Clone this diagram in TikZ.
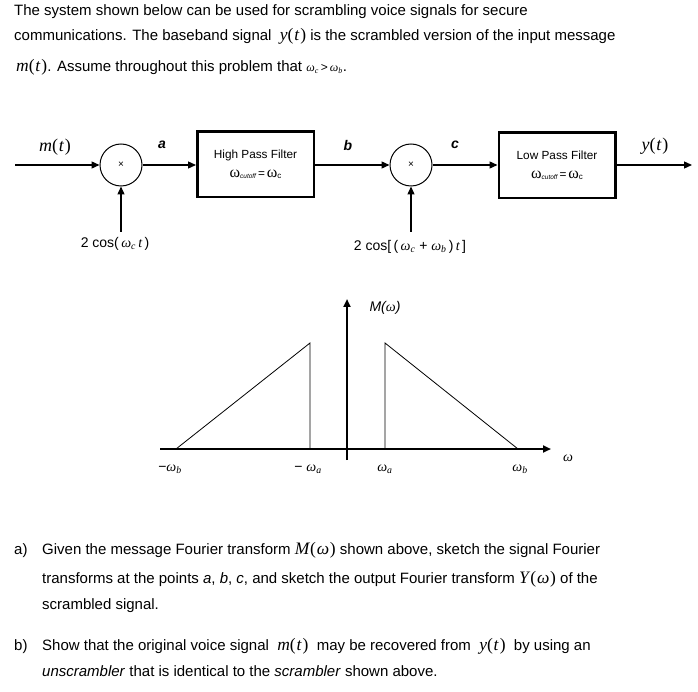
\documentclass[tikz,border=0pt]{standalone}
\usepackage{fontspec}
\setmainfont{Liberation Sans}
\newfontfamily\symfont{Liberation Serif}
\usetikzlibrary{arrows.meta}
\newcommand{\wcut}{{\symfont\fontsize{16}{16}\selectfont ω}\raisebox{-1.5pt}{\fontsize{6.5}{6.5}\selectfont\itshape cutoff}\,=\,{\symfont\fontsize{16}{16}\selectfont ω}\raisebox{-1.5pt}{\fontsize{8}{8}\selectfont c}}
\newcommand{\mv}[1]{{\symfont\itshape #1}}
\newcommand{\mfn}[2]{{\symfont\itshape #1\/\upshape(\kern0.8pt\itshape #2\/\kern0.8pt\upshape)}}
\newcommand{\mthbig}[2]{{\fontsize{17.5}{17.5}\selectfont\mfn{#1}{#2}}}
\newcommand{\om}[1]{\mv{ω}\textsubscript{\mv{#1}}}
\begin{document}
\begin{tikzpicture}[x=1pt,y=-1pt,
  txt/.style={anchor=base west, inner sep=0pt, font=\fontsize{15}{16}\selectfont},
  sig/.style={line width=1.3pt, -{Triangle[length=8pt,width=7pt]}},
  mult/.style={circle, draw, line width=1pt, minimum size=42pt, inner sep=0pt, font=\fontsize{10}{12}\selectfont},
  filt/.style={draw, line width=2.5pt, minimum width=116.5pt, minimum height=65.5pt, align=center, inner sep=0pt, font=\fontsize{11.8}{14}\selectfont},
  lbl/.style={inner sep=0pt, font=\fontsize{14}{15}\selectfont},
  ptlbl/.style={inner sep=0pt, font=\fontsize{14}{15}\selectfont\bfseries\itshape},
  axisline/.style={line width=2pt, -{Triangle[length=8pt,width=7pt]}},
  spec/.style={line width=0.8pt},
  flbl/.style={inner sep=0pt, font=\fontsize{14}{14}\selectfont}
]
\useasboundingbox (0,0) rectangle (698,692);

% top text
\node[txt] (t1) at (14,16) {The system shown below can be used for scrambling voice signals for secure};
\node[txt] (t2) at (14,41) {communications. The baseband signal \ \mthbig{y}{t} is the scrambled version of the input message};
\node[txt] (t3) at (16,72) {\mthbig{m}{t}. Assume throughout this problem that {\fontsize{12}{12}\selectfont\om{c}\,>\,\om{b}}.};

% block diagram
\node[mult] (m1) at (121,165) {×};
\node[mult] (m2) at (411,165) {×};
\node[filt] (hpf) at (255.5,164.5) {High Pass Filter\\[5pt]\wcut};
\node[filt] (lpf) at (557,165.5) {Low Pass Filter\\[5pt]\wcut};
\coordinate (in) at (15,165);
\coordinate (out) at (692,165);
\coordinate (lo1) at (121,232);
\coordinate (lo2) at (411,232);
\draw[sig] (in) -- (m1);
\draw[sig] (m1) -- (hpf.west |- m1);
\draw[sig] (hpf.east |- m2) -- (m2);
\draw[sig] (m2) -- (lpf.west |- m2);
\draw[sig] (lpf.east |- out) -- (out);
\draw[sig] (lo1) -- (m1);
\draw[sig] (lo2) -- (m2);

\node[lbl, font=\fontsize{18}{18}\selectfont] (lm) at (55,147) {\mfn{m}{t}};
\node[lbl, font=\fontsize{18}{18}\selectfont] (ly) at (655,146) {\mfn{y}{t}};
\node[ptlbl] (la) at (162,145) {a};
\node[ptlbl] (lb) at (348,145) {b};
\node[ptlbl] (lc) at (455,145) {c};
\node[lbl] (c1) at (115,244) {2 cos(\,\om{c}\,\mv{t}\,)};
\node[lbl] (c2) at (410,247) {2 cos[\,(\,\om{c} + \om{b}\,)\,\mv{t}\,]};

% spectrum
\coordinate (xl) at (160,449);
\coordinate (xr) at (551,449);
\coordinate (yb) at (347,460);
\coordinate (yt) at (347,299);
\draw[axisline] (xl) -- (xr);
\draw[axisline] (yb) -- (yt);
\coordinate (p1) at (176,449);
\coordinate (p2) at (310,343);
\coordinate (p3) at (310,449);
\coordinate (q1) at (385,449);
\coordinate (q2) at (385,343);
\coordinate (q3) at (518,449);
\draw[spec] (p1) -- (p2) -- (p3);
\draw[spec] (q1) -- (q2) -- (q3);
\node[lbl, font=\fontsize{14}{15}\selectfont\itshape] (lM) at (385,308) {M(\mv{ω})};
\node[flbl] (lw) at (568,458) {\mv{ω}};
\node[flbl] (l1) at (170,469) {−\om{b}};
\node[flbl] (l2) at (308,469) {− \om{a}};
\node[flbl] (l3) at (385,469) {\om{a}};
\node[flbl] (l4) at (520,469) {\om{b}};

% bottom text
\node[txt] (ba) at (14,554) {a)};
\node[txt] (b1) at (42,554) {Given the message Fourier transform \mthbig{M}{ω} shown above, sketch the signal Fourier};
\node[txt] (b2) at (42,583) {transforms at the points \textit{a}, \textit{b}, \textit{c}, and sketch the output Fourier transform \mthbig{Y}{ω} of the};
\node[txt] (b3) at (42,609) {scrambled signal.};
\node[txt] (bb) at (14,650) {b)};
\node[txt] (b4) at (42,650) {Show that the original voice signal \ \mthbig{m}{t} \ may be recovered from \ \mthbig{y}{t} \ by using an};
\node[txt] (b5) at (42,676) {\textit{unscrambler} that is identical to the \textit{scrambler} shown above.};
\end{tikzpicture}
\end{document}
